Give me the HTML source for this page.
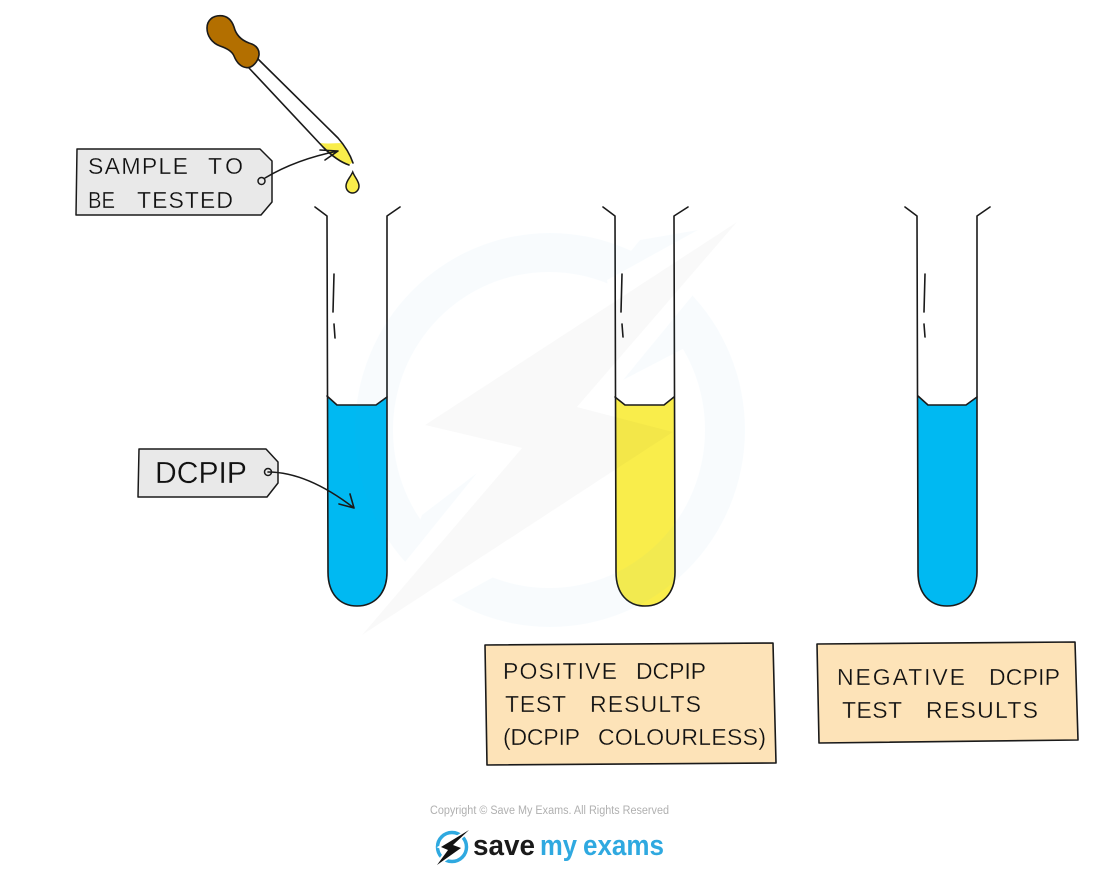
<!DOCTYPE html>
<html>
<head>
<meta charset="utf-8">
<style>
html,body{margin:0;padding:0;background:#fff;width:1100px;height:886px;overflow:hidden}
svg{display:block}
text{font-family:"Liberation Sans",sans-serif;fill:#111}
.g text{stroke:#e9e9e9;stroke-width:.3}
.o text{stroke:#fde3b8;stroke-width:.3}
.s{fill:none;stroke:#1a1a1a;stroke-width:1.6;stroke-linecap:round;stroke-linejoin:round}
</style>
</head>
<body>
<svg width="1100" height="886" viewBox="0 0 1100 886" xmlns="http://www.w3.org/2000/svg">
<defs>
<mask id="rm" maskUnits="userSpaceOnUse" x="0" y="0" width="1100" height="886">
<rect width="1100" height="886" fill="#fff"/>
<polygon points="737,213 698,230 607,280 623,380 693,295" fill="#000"/>
<polygon points="405,562 477,473 522,448 362,635" fill="#000"/>
<polygon points="362,635 403,627 497,575 640,480 520,470" fill="#000"/>
<polygon points="737,222 577,407 673,432 362,635 522,448 425,425" fill="#000"/>
</mask>
</defs>

<!-- Tube 1 -->
<path d="M327,396 L337,405 L376,405 L387,397 L387,572 C387,594 374,606 357,606 C340,606 328,594 328,572 Z" fill="#00b9f2"/>
<path class="s" d="M315,207 L327,216 L328,572 C328,594 340,606 357,606 C374,606 387,594 387,572 L387,216 L400,207"/>
<path class="s" d="M327,396 L337,405 L376,405 L387,397"/>
<path class="s" d="M334,274 L333,312 M334,324 L335,338"/>

<!-- Tube 2 -->
<path d="M615,397 L625,405 L664,405 L674,397 L675,572 C675,594 662,606 645,606 C628,606 616,594 616,572 Z" fill="#f9ed4b"/>
<path class="s" d="M603,207 L615,216 L616,572 C616,594 628,606 645,606 C662,606 675,594 675,572 L674,216 L688,207"/>
<path class="s" d="M615,397 L625,405 L664,405 L674,397"/>
<path class="s" d="M622,274 L621,312 M622,324 L623,337"/>

<!-- Tube 3 -->
<path d="M918,396 L928,405 L966,405 L977,397 L977,572 C977,594 964,606 947,606 C930,606 918,594 918,572 Z" fill="#00b9f2"/>
<path class="s" d="M905,207 L917,216 L918,572 C918,594 930,606 947,606 C964,606 977,594 977,572 L977,216 L990,207"/>
<path class="s" d="M918,396 L928,405 L966,405 L977,397"/>
<path class="s" d="M925,274 L924,312 M924,324 L925,337"/>

<!-- Watermark -->
<g fill="#3fa9e0" opacity="0.03">
<path mask="url(#rm)" fill-rule="evenodd" d="M355,430 a195,197 0 1,0 390,0 a195,197 0 1,0 -390,0 Z M393,430 a156,158 0 1,0 312,0 a156,158 0 1,0 -312,0 Z"/>
<polygon points="698,230 607,280 640,240"/>
<polygon points="693,295 623,380 700,340"/>
<polygon points="422,515 477,473 405,562"/>
</g>
<polygon points="737,222 577,407 673,432 362,635 522,448 425,425" fill="#000" opacity="0.025"/>

<!-- Dropper -->
<path d="M320,143 C328,144 336,143 342,143 C347,149 351,156 353,162 L349,165 C340,162 332,155 323,147 Z" fill="#f9ed4b"/>
<path class="s" d="M258,59 L338,138 C345,146 350,154 353,163"/>
<path class="s" d="M249,68 L323,147 C331,155 340,162 349,165"/>
<path d="M207,28 C207,20 213,15.700 220,15.700 C228,15.700 232,21 234,27 C236,35 241,40 249,43 C256,45 259.500,49 259,55 C258,62 252,68 247,67.700 C240,67 236,61 234,56 C232,51 226,48 220,46 C212,43 207,36 207,28 Z" fill="#b36f00" stroke="#1a1a1a" stroke-width="1.600"/>
<path d="M352.700,172 C350,178 346,181 346,186 C346,190 349,193 352.500,193 C356,193 359,190 359,186 C359,181 355,178 352.700,172 Z" fill="#f9ed4b" stroke="#1a1a1a" stroke-width="1.500"/>

<!-- Sample tag -->
<path d="M77,149 L260,149 L272,161 L272,202 L261,215 L76,215 Z" fill="#e9e9e9" stroke="#1a1a1a" stroke-width="1.500" stroke-linejoin="round"/>
<circle cx="261.500" cy="181" r="3.500" fill="none" stroke="#1a1a1a" stroke-width="1.500"/>
<path class="s" d="M265,178 C285,166 308,157 338,151 M320,150 L338,151 L325,160"/>
<g class="g" font-size="23">
<text x="88" y="174" textLength="100">SAMPLE</text>
<text x="208" y="174" textLength="35">TO</text>
<text x="88" y="208" textLength="27" lengthAdjust="spacingAndGlyphs">BE</text>
<text x="137" y="208" textLength="96">TESTED</text>
</g>

<!-- DCPIP tag -->
<path d="M139,449 L266,449 L278,462 L278,483 L267,497 L138,497 Z" fill="#e9e9e9" stroke="#1a1a1a" stroke-width="1.500" stroke-linejoin="round"/>
<circle cx="268" cy="472" r="3.500" fill="none" stroke="#1a1a1a" stroke-width="1.500"/>
<path class="s" d="M268,472 C298,472 328,488 354,508 M339,504 L354,508 L350,494"/>
<g class="g"><text x="155" y="483" font-size="31" textLength="92" lengthAdjust="spacingAndGlyphs">DCPIP</text></g>

<!-- Positive box -->
<path d="M485,645 L773,643 L776,763 L487,765 Z" fill="#fde3b8" stroke="#1a1a1a" stroke-width="1.600" stroke-linejoin="round"/>
<g class="o" font-size="23">
<text x="503" y="679" textLength="114">POSITIVE</text>
<text x="636" y="679" textLength="70">DCPIP</text>
<text x="505" y="712" textLength="61">TEST</text>
<text x="590" y="712" textLength="111">RESULTS</text>
<text x="503" y="745" textLength="77">(DCPIP</text>
<text x="598" y="745" textLength="168">COLOURLESS)</text>
</g>

<!-- Negative box -->
<path d="M817,644 L1075,642 L1078,740 L819,743 Z" fill="#fde3b8" stroke="#1a1a1a" stroke-width="1.600" stroke-linejoin="round"/>
<g class="o" font-size="23">
<text x="837" y="685" textLength="128">NEGATIVE</text>
<text x="989" y="685" textLength="71">DCPIP</text>
<text x="842" y="718" textLength="60">TEST</text>
<text x="926" y="718" textLength="112">RESULTS</text>
</g>

<!-- Footer -->
<text x="430" y="814" font-size="11.500" textLength="239" lengthAdjust="spacingAndGlyphs" style="fill:#b0b0b0">Copyright © Save My Exams. All Rights Reserved</text>
<circle cx="452" cy="847" r="14.500" fill="none" stroke="#2fa9e0" stroke-width="3.500"/>
<polygon points="469,830 452,846 461,849 437,865 447,850 440,847" fill="#fff" stroke="#fff" stroke-width="3"/>
<polygon points="469,830 453,845 461,848 437,865 448,850 441,847" fill="#111"/>
<text x="473" y="855" font-size="29" font-weight="bold" textLength="62" lengthAdjust="spacingAndGlyphs" style="fill:#1a1a1a">save</text>
<text x="540" y="855" font-size="29" textLength="37" lengthAdjust="spacingAndGlyphs" style="fill:#2fa9e0;font-weight:bold">my</text>
<text x="583" y="855" font-size="29" textLength="81" lengthAdjust="spacingAndGlyphs" style="fill:#2fa9e0;font-weight:bold">exams</text>
</svg>
</body>
</html>
